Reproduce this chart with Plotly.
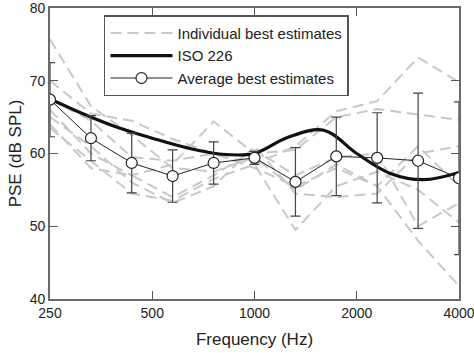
import plotly.graph_objects as go

freq = [250, 330, 435, 574, 758, 1000, 1320, 1741, 2297, 3031, 4000]
avg = [67.4, 62.1, 58.7, 56.9, 58.7, 59.4, 56.1, 59.6, 59.4, 59.0, 56.6]
avg_err = [5.1, 3.1, 4.1, 3.6, 2.9, 0.9, 4.7, 5.4, 6.2, 9.3, 10.5]

individuals = [
    [75.7, 66.5, 62.5, 58.0, 57.5, 59.5, 55.0, 58.5, 55.5, 48.0, 41.8],
    [70.0, 65.5, 64.5, 62.0, 60.0, 58.5, 61.0, 65.8, 67.2, 73.2, 69.8],
    [66.0, 60.0, 57.0, 58.5, 64.4, 60.0, 60.5, 65.0, 66.1, 65.4, 64.6],
    [63.5, 59.0, 54.5, 53.5, 56.5, 58.5, 49.5, 55.5, 57.5, 55.0, 50.5],
    [65.0, 61.0, 56.0, 53.2, 55.5, 61.0, 54.5, 54.0, 54.5, 60.0, 61.0],
    [64.0, 58.0, 57.0, 54.0, 57.0, 60.5, 57.0, 59.5, 60.0, 50.0, 53.2],
    [67.5, 64.5, 59.5, 59.0, 60.0, 58.0, 55.5, 58.0, 55.5, 61.0, 55.5],
]

iso_freq = [250, 315, 400, 500, 630, 800, 1000, 1250, 1600, 2000, 2500, 3150, 4000]
iso_spl = [67.5, 65.4, 63.5, 62.1, 60.8, 59.9, 60.0, 62.2, 63.2, 60.0, 57.3, 56.4, 57.4]

x_ticks = [250, 500, 1000, 2000, 4000]
x_labels = ["250", "500", "1000", "2000", "4000"]
y_ticks = [40, 50, 60, 70, 80]

FONT = "Liberation Sans, Arial, sans-serif"
fig = go.Figure()

for i, ind in enumerate(individuals):
    fig.add_trace(go.Scatter(
        x=freq, y=ind, mode="lines",
        line=dict(color="#c8c8c8", width=2, dash="11px,6px"),
        name="Individual best estimates", showlegend=(i == 0),
        legendrank=1,
    ))

fig.add_trace(go.Scatter(
    x=iso_freq, y=iso_spl, mode="lines",
    line=dict(color="#111111", width=3.2, shape="spline", smoothing=1.0),
    name="ISO 226", legendrank=2,
))

fig.add_trace(go.Scatter(
    x=freq, y=avg, mode="lines+markers",
    line=dict(color="#222222", width=1),
    marker=dict(symbol="circle", size=11, color="white",
                line=dict(color="#222222", width=1.2)),
    error_y=dict(type="data", array=avg_err, visible=True,
                 color="#444444", thickness=1.2, width=5),
    name="Average best estimates", legendrank=3,
))

axis_common = dict(
    showline=True, linecolor="#6a6a6a", linewidth=1.6, mirror="ticks",
    ticks="inside", ticklen=8, tickwidth=1.2, tickcolor="#555555",
    showgrid=False, zeroline=False, ticklabeloverflow="allow",
    automargin=False,
    tickfont=dict(family=FONT, size=14, color="#222222"),
)

fig.update_layout(
    width=474, height=353,
    margin=dict(l=50, r=15, t=8, b=54),
    paper_bgcolor="white", plot_bgcolor="white",
    font=dict(family=FONT, size=14, color="#222222"),
    xaxis=dict(
        type="log", range=[2.39794, 3.60206],
        tickvals=x_ticks, ticktext=x_labels,
        title=dict(text="Frequency (Hz)", font=dict(family=FONT, size=17), standoff=14),
        **axis_common,
    ),
    yaxis=dict(
        range=[40, 80], tickvals=y_ticks,
        title=dict(text="PSE (dB SPL)", font=dict(family=FONT, size=17), standoff=4),
        **axis_common,
    ),
    legend=dict(
        x=0.132, y=0.975, xanchor="left", yanchor="top",
        bgcolor="white", bordercolor="#555555", borderwidth=1.5,
        font=dict(family=FONT, size=15, color="#222222"),
        itemwidth=62, tracegroupgap=0,
    ),
    showlegend=True,
)

fig.write_html("out.html")
